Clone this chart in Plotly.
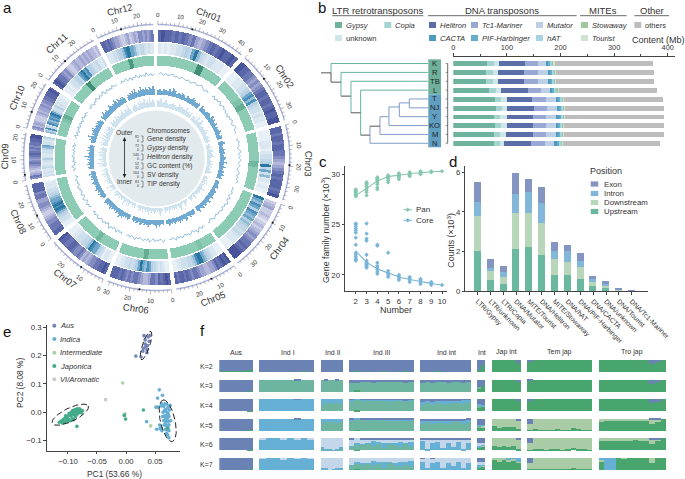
import numpy as np
import plotly.graph_objects as go

W, H = 685, 479
def fx(p): return p / W
def fy(p): return 1 - p / H

# ---------- panel a data ----------
chr_names = ["Chr01","Chr02","Chr03","Chr04","Chr05","Chr06","Chr07","Chr08","Chr09","Chr10","Chr11","Chr12"]
chr_len = [43.3,35.9,36.4,35.5,30.0,31.2,29.7,28.4,23.0,23.2,29.0,27.5]
centromere = [16.7,13.6,19.4,9.7,12.4,15.4,12.1,12.9,2.8,8.1,12.0,11.9]
gene_density = [
 [8,9,8,8,7,8,7,8,7,6,7,5,4,5,6,7,8,7,8,9,8,8,9,8],
 [9,9,8,8,7,7,6,5,6,5,6,7,8,8,7,8,8,7,8,9,8,8,9,9],
 [8,8,7,8,8,7,8,8,7,7,6,5,4,5,6,7,8,7,8,8,8,7,8,9],
 [3,4,5,3,3,4,3,2,3,4,3,4,5,6,5,6,7,7,8,7,8,9,9,9],
 [9,8,9,8,7,8,6,5,5,4,4,5,5,6,7,7,6,7,8,7,8,8,7,8],
 [8,9,8,7,8,6,7,7,5,4,4,5,6,7,7,6,7,6,7,8,7,8,8,8],
 [8,9,8,8,7,7,6,6,5,4,5,4,6,7,6,6,7,8,8,7,7,8,8,9],
 [8,8,7,7,7,6,6,5,4,3,3,4,5,6,6,5,5,7,7,6,8,8,8,8],
 [6,7,5,4,3,4,5,6,7,6,5,6,7,8,7,6,7,6,7,7,8,8,9,9],
 [5,6,4,5,4,3,3,3,4,5,4,5,5,6,5,6,6,7,7,8,8,8,9,8],
 [8,9,8,7,7,6,5,6,4,3,3,4,5,4,4,5,4,5,4,5,4,4,3,4],
 [8,8,7,8,7,6,5,5,4,3,3,4,5,3,4,5,4,6,6,5,6,5,6,7],
]
gypsy_density = [
 [2,1,2,1,2,2,3,3,4,5,4,7,9,6,4,3,2,3,3,2,2,2,1,1],
 [1,1,1,2,2,2,3,3,4,5,7,8,6,8,5,4,3,3,2,3,2,2,1,1],
 [1,1,1,1,2,2,2,1,2,3,3,4,5,9,4,7,3,6,2,2,1,2,1,1],
 [9,7,6,8,7,5,8,7,6,7,5,6,5,4,4,3,4,3,2,2,2,1,1,1],
 [1,1,1,2,2,3,4,5,6,7,9,9,8,6,5,4,4,3,3,3,2,2,1,1],
 [1,1,2,3,2,3,4,5,7,8,6,7,9,7,5,4,3,4,3,3,2,2,1,1],
 [1,1,2,2,1,3,4,5,7,7,8,9,6,5,4,4,3,3,3,2,2,1,1,1],
 [1,1,2,3,3,4,5,6,8,9,8,9,8,7,7,6,5,4,3,3,2,2,2,1],
 [3,2,3,2,2,4,3,2,2,3,5,3,2,2,3,3,4,6,7,3,3,2,3,5],
 [6,5,8,4,3,8,7,6,8,7,8,9,7,4,3,3,5,2,3,2,2,2,1,1],
 [1,1,2,1,2,3,3,4,5,4,7,8,9,7,8,5,5,4,3,3,4,2,2,3],
 [2,2,2,3,3,4,5,5,6,8,9,9,7,7,6,4,3,4,4,3,2,3,2,2],
]
helitron_density = [
 [3,3,3,3,3,3,9,3,3,3],[3,3,3,3,4,6,3,3,3,3],[3,3,3,3,3,5,3,3,3,3],[3,3,3,3,3,3,3,3,3,3],
 [3,3,3,4,3,3,3,3,3,3],[3,3,3,3,6,3,3,3,3,3],[3,3,3,3,5,3,3,3,3,3],[3,3,3,3,3,3,3,3,3,3],
 [3,3,3,3,3,3,3,3,3,3],[3,3,3,3,4,6,3,3,3,3],[3,3,3,3,9,3,3,3,3,3],[3,3,3,3,8,3,3,3,3,3],
]
gc_content = [
 [44,46,42,45,43,44,46,42,44,41,45,43,42,44,41,43,45,42,44,46,43,41,44,42],
 [42,45,41,44,42,46,41,43,45,42,44,41,43,40,44,42,45,43,41,44,46,42,43,41],
 [43,41,45,42,44,40,43,46,41,44,42,45,43,41,44,42,40,43,45,41,44,42,46,43],
 [40,43,41,44,42,40,45,41,43,46,42,44,41,45,43,42,44,41,43,45,42,40,44,43],
 [44,42,45,41,43,47,42,44,40,43,45,42,44,41,43,45,42,44,41,46,43,41,44,42],
 [42,46,43,41,44,42,45,40,43,46,41,44,42,45,43,41,44,42,46,43,41,45,42,44],
 [45,42,44,41,46,43,41,44,42,47,43,40,44,42,45,43,41,44,46,42,43,45,41,44],
 [41,44,42,45,43,40,44,46,42,41,45,43,41,44,42,46,43,41,44,42,45,43,40,44],
 [43,45,41,44,47,42,43,40,45,42,44,41,46,43,42,44,41,45,43,42,46,41,44,43],
 [42,44,46,41,43,45,40,44,42,46,41,43,45,42,44,41,43,46,42,44,41,45,43,42],
 [44,41,45,43,40,44,42,46,43,41,45,42,44,47,41,43,45,42,44,41,46,43,42,44],
 [41,45,42,44,46,41,43,45,40,44,42,46,43,41,45,42,44,41,47,43,42,45,41,44],
]
sv_density = [
 [60,75,45,80,70,55,90,60,110,80,50,70,60,85,75,45,85,70,65,95,80,60,70,85],
 [85,60,70,45,55,65,80,60,50,95,70,90,55,60,80,45,65,55,70,85,60,50,75,65],
 [70,90,60,45,55,80,65,70,50,60,85,70,55,95,65,45,90,60,50,75,60,85,55,70],
 [55,65,50,60,75,45,55,80,60,70,65,85,60,55,90,65,60,75,50,85,65,55,95,70],
 [50,65,70,55,85,60,45,75,90,65,55,70,60,95,65,55,60,80,50,70,60,85,55,65],
 [70,55,60,85,65,100,75,60,45,55,70,90,65,60,75,55,70,85,50,65,80,55,70,60],
 [60,80,55,70,45,65,90,75,110,65,60,85,55,70,60,75,55,95,65,50,70,60,80,55],
 [65,55,75,60,85,45,70,55,95,65,60,75,55,70,85,60,55,80,60,70,50,90,65,55],
 [70,85,60,55,100,65,75,45,60,90,55,70,130,65,60,80,70,55,95,60,75,85,65,70],
 [55,65,90,60,70,120,65,45,80,60,75,90,65,110,70,60,85,75,55,95,65,100,70,60],
 [80,65,70,100,60,75,90,65,50,70,110,80,65,85,70,120,90,60,105,75,85,65,95,70],
 [60,85,70,95,65,110,80,120,75,55,90,70,130,85,95,75,110,80,65,100,85,70,115,75],
]
tip_density = [
 [40,35,50,25,30,45,30,20,25,30,35,30,20,25,40,30,35,25,30,45,25,30,20,35],
 [30,25,40,20,45,25,30,50,35,20,25,30,20,25,35,25,30,20,15,25,35,20,30,25],
 [25,20,30,15,25,35,20,25,30,45,25,15,20,30,25,35,20,30,15,25,20,40,25,15],
 [20,25,15,30,20,35,10,25,15,20,45,25,20,30,15,25,20,15,35,20,10,25,30,15],
 [15,25,20,35,10,15,20,25,45,30,20,15,25,20,30,15,25,10,20,35,15,25,20,30],
 [20,30,45,15,25,10,20,35,25,15,30,20,40,25,15,30,20,15,30,10,25,35,20,15],
 [25,15,30,20,10,15,35,20,30,15,25,45,20,15,25,20,15,30,10,25,20,35,15,25],
 [20,35,15,25,20,45,10,15,30,20,25,15,35,20,25,15,30,20,40,15,25,10,30,20],
 [30,20,40,25,50,15,30,20,35,45,25,30,20,40,25,35,20,45,30,15,35,25,40,30],
 [35,25,45,30,20,40,30,55,15,25,35,40,25,30,45,25,35,20,50,30,25,40,35,25],
 [30,45,25,35,40,20,30,50,25,40,35,25,45,30,35,50,30,20,40,45,25,35,55,30],
 [25,40,30,50,35,20,25,45,30,55,35,30,40,50,30,35,45,25,60,35,30,45,40,30],
]

# ---------- panel b data ----------
b_rows = ["K","R","TB","L","T","NJ","Y","KO","M","N"]
b_gypsy    = [63.5,61.6,61.6,67,78,80,76,78.5,76.5,76.5]
b_copia    = [12.5,13,12.4,13,12,11,11,10.5,11.5,10.5]
b_unknown  = [9,9.4,9.4,10,10,10,13,11,11,9]
b_helitron = [48.5,48,48.6,49,48,49.5,49,49,50,50]
b_tc1      = [24.5,26,26,25,25,24.5,25,25,24,25]
b_mutator  = [16.5,19,19,17,19,19,19,18,19,18]
b_cacta    = [3,4,4,4,4,4,5,4,4,5]
b_pif      = [5,5,5,5,5,5,5,5,5,5]
b_hat      = [3,2.5,2.5,3,3,3,3,3,3,3]
b_stowaway = [2,2,2,3,2,2,2,2,2,2]
b_tourist  = [2,2,2,2,1,1,1,1,1,1]
b_others   = [183,182.5,183,182,184,184,185,186,186,182]
b_series = [("Gypsy",b_gypsy,"#6fb39f"),("Copia",b_copia,"#a3d4cf"),("unknown",b_unknown,"#cfe6e8"),
            ("Helitron",b_helitron,"#5b6ea8"),("Tc1-Mariner",b_tc1,"#9aa8d4"),("Mutator",b_mutator,"#bccfe6"),
            ("CACTA",b_cacta,"#4f9bc0"),("PIF-Harbinger",b_pif,"#64aecb"),("hAT",b_hat,"#a6d4e2"),
            ("Stowaway",b_stowaway,"#a0c79d"),("Tourist",b_tourist,"#cfe2cf"),("others",b_others,"#bdbdbd")]

# tree (branch units, row index)
tree_teal_x = [48,340,None,48,48,None,78,340,None,78,78,None,108,340,None,108,108,None,137,340,None,137,137]
tree_teal_y = [0,0,None,0,1.05,None,1,1,None,1,3.68,None,2,2,None,2,5.56,None,3,3,None,3,8.08]
tree_dark_x = [18,48,None,48,48,None,48,78,None,78,108,None,108,137,None,137,165,None,165,195]
tree_dark_y = [1.05,1.05,None,1.05,2.1,None,2.1,2.1,None,3.68,3.68,None,5.56,5.56,None,8.08,8.08,None,7.07,7.07]
tree_blue_x = [165,165,None,165,340,None,195,195,None,195,340,None,195,222,None,222,222,None,222,340,None,222,253,None,253,253,None,253,340,None,253,283,None,283,283,None,283,340,None,283,340]
tree_blue_y = [7.07,9,None,9,9,None,6,8,None,8,8,None,6,6,None,4.9,7,None,7,7,None,4.9,4.9,None,4.44,6,None,6,6,None,4.44,4.44,None,4,5,None,4,4,None,5,5]

# ---------- panel c data ----------
c_n = [2,3,4,5,6,7,8,9,10]
pan_mean = [27.9,28.6,29.3,29.75,29.9,30.05,30.15,30.25,30.3]
core_mean = [22.4,21.3,20.6,20.2,19.8,19.55,19.35,19.15,19.0]
pan_points = [[27.8,27.9,28.0,28.1,28.2,28.3,28.4,28.5],[27.9,28.2,28.4,28.6,28.8,29.0,29.1,29.2],
 [28.5,28.7,29.0,29.2,29.4,29.5,29.6,29.7],[29.2,29.4,29.6,29.7,29.8,29.9],[29.5,29.7,29.8,29.9,30.0,30.1],
 [29.8,29.9,30.0,30.1,30.2],[30.0,30.1,30.2,30.3],[30.2,30.3],[30.3]]
core_points = [[21.4,21.5,21.6,21.8,22.0,22.2,23.0,23.7,24.2,24.4,24.6,24.8,25.0,25.1],
 [20.7,20.8,20.9,21.0,21.1,21.2,21.4,22.0,23.4,23.6,24.1,25.1],[20.1,20.3,20.5,20.7,20.9,21.2,22.9,23.0],
 [19.8,20.0,20.2,20.4,22.2],[19.5,19.7,19.9,20.0],[19.3,19.5,19.7,19.8],[19.1,19.3,19.5,19.6],[19.0,19.2,19.3],[19.0]]

# ---------- panel d data ----------
d_cats = ["LTR/Gypsy","LTR/unknown","LTR/Copia","DNA/Mutator","MITE/Tourist","DNA/Helitron","MITE/Stowaway",
          "DNA/hAT","DNA/PIF-Harbinger","DNA/CACTA","DNA/unknown","DNA/Tourist","DNA/Tc1-Mariner"]
d_upstream   = [2.03,.57,.40,2.15,2.22,1.83,.85,.83,.63,.27,.18,.06,.02]
d_downstream = [1.77,.48,.33,1.83,1.73,1.62,.77,.67,.62,.23,.14,.04,.02]
d_intron     = [.73,.15,.25,.95,1.08,1.03,.42,.53,.27,.15,.08,.03,.01]
d_exon       = [.97,.42,.32,1.05,.64,.79,.48,.30,.43,.13,.12,.04,.02]

# ---------- panel e data ----------
aus_x = [.017,.026,.029,.03,.031,.033,.034,.036,.037,.038,.04,.041,.036,.033]
aus_y = [.198,.195,.215,.225,.27,.24,.23,.21,.235,.265,.25,.27,.22,.255]
indica_x = [.0574,.063,.0545,.0517,.062,.0356,.0529,.0585,.055,.06,.065,.067,.07,.068,.072,.074,.076,.064,.066,.069,.071,.073,.075,.063,.066,.068,.07,.072,.074,.065,.067,.069,.071,.073,.066,.068,.07,.072,.074,.068,.07,.072,.074,.07,.072,.074,.06,.062,.077,.058]
indica_y = [.079,.06,.05,.018,.03,-.033,-.06,-.058,.018,.022,.02,.03,.028,.01,.015,.02,.025,0,.005,.003,0,-.005,.008,-.015,-.012,-.018,-.01,-.02,-.014,-.03,-.028,-.035,-.03,-.032,-.045,-.042,-.048,-.05,-.044,-.06,-.062,-.058,-.065,-.075,-.08,-.09,-.055,-.065,-.03,-.045]
intermediate_x = [-.0057,-.0017,.0425,-.003]
intermediate_y = [.103,-.005,-.048,-.01]
japonica_x = [.03,-.003,-.0007,-.0846,.072,-.115,-.112,-.11,-.108,-.106,-.105,-.103,-.102,-.1,-.098,-.097,-.095,-.093,-.092,-.09,-.088,-.087,-.085,-.083,-.082,-.08,-.078,-.077,-.075,-.11,-.107,-.104,-.1,-.096,-.094,-.09,-.086,-.084,-.08,-.098,-.092,-.088]
japonica_y = [.008,-.011,-.024,-.0495,-.056,-.035,-.032,-.03,-.025,-.035,-.02,-.03,-.015,-.022,-.01,-.028,-.012,-.02,-.005,-.008,.0,-.015,.005,-.005,.01,.0,.008,-.002,.005,-.038,-.036,-.012,-.032,-.03,.0,-.026,-.01,.012,.012,-.004,.006,.01]
aromatic_x = [-.0352]
aromatic_y = [.0445]
e_groups = [("Aus",aus_x,aus_y,"#7384ba"),("Indica",indica_x,indica_y,"#66aed3"),("Intermediate",intermediate_x,intermediate_y,"#a9d2a8"),
            ("Japonica",japonica_x,japonica_y,"#43ab8a"),("VI/Aromatic",aromatic_x,aromatic_y,"#c9c9c9")]
# ellipses: centre, major half-axis vector, minor half-axis vector
ell_centers = [(.0345,.235),(.0719,-.0297),(-.096,-.0085)]
ell_major = [(.0069,.05),(-.0081,.0731),(.031,.0307)]
ell_minor = [(.0072,.0042),(.0123,.0057),(.005,-.0212)]

# ---------- panel f data (bottom-to-top stack per K, percent; top component is blue) ----------
f_groups = ["Aus","Ind I","Ind II","Ind III","Ind int","Int","Jap int","Tem jap","Tro jap"]
f_sizes = [33.7,55.3,22,64.7,51,8,29.3,65,67.7]
f_bins = [6,8,6,12,10,2,6,12,12]
f_k = ["K=2","K=3","K=4","K=5","K=6","K=7"]
k2_green = [[12,12,10,10,12,20],[0,0,0,0,0,0,5,0],[0],[0,12,0,0,0,0,5,0,0,0,5,0],[0,0,0,5,0,0,0,0,0,0],[15,55],[100,100,100,100,100,75],[90,100,100,100,100,100,100,100,100,100,100,100],[100,100,100,100,100,100,100,100,100,70,85,100]]
k3_green = [[0,0,0,0,0,6],[0],[0],[0,10,0,0,0,0,0,0,0,0,0,0],[0],[20,45],[100,100,100,100,100,85],[90,100,100,100,100,100,100,100,100,100,100,100],[100,100,100,100,100,100,100,100,100,65,85,100]]
k3_teal = [[0],[100,100,100,100,100,90,100,100],[100,95,100,100,95,100],[70,65,85,80,75,85,85,80,85,80,70,85],[75,85,70,85,80,75,85,85,70,85],[20,0],[0],[0],[0]]
k4_green = [[0,0,0,0,0,5],[0],[0],[0,8,0,0,0,0,0,0,0,0,0,0],[0],[25,40],[100,100,100,100,100,90],[88,100,100,100,100,100,100,100,100,100,100,100],[100,100,100,100,100,100,100,100,100,70,85,100]]
k4_teal = [[0],[0],[40,70,65,60,65,60],[85,90,92,90,92,90,92,85,90,88,85,90],[50,70,55,65,60,60,70,70,60,75],[25,0],[0],[0],[0]]
k4_lblue = [[0],[100,100,100,100,100,95,100,100],[60,30,35,40,35,40],[10,5,5,5,5,5,5,10,5,7,8,5],[35,20,30,25,30,30,20,20,35,20],[10,10],[0],[0],[0]]
k5_green = [[0,0,0,0,0,5],[0],[0],[0,8,0,0,0,0,0,0,0,0,0,0],[0],[20,30],[40,25,35,30,35,15],[5,15,10,5,10,15,5,10,20,15,10,5],[75,80,85,85,80,85,90,85,85,55,80,100]]
k5_pale = [[0],[0],[0],[0],[0],[0,10],[60,75,65,70,65,75],[55,85,90,95,90,85,95,90,80,85,90,95],[25,20,15,15,20,15,10,15,15,40,15,0]]
k5_teal = [[0],[0],[60,70,75,70,65,70],[85,90,92,90,92,90,92,85,90,88,85,90],[60,75,55,70,65,60,70,75,60,80],[20,0],[0],[0],[0]]
k5_lblue = [[0],[100,100,100,100,100,95,100,100],[40,30,25,30,35,30],[10,2,3,5,5,5,5,10,5,7,8,5],[25,15,25,15,20,25,20,15,25,15],[10,10],[0],[0],[0]]
k6_green = [[0,0,0,0,0,5],[0],[0],[0,6,0,0,0,0,0,0,0,0,0,0],[0],[20,30],[40,25,35,30,35,15],[5,15,10,5,10,15,5,10,20,15,10,5],[75,80,85,85,80,85,90,85,85,55,80,100]]
k6_pale = [[0],[0],[0],[0],[0],[0,10],[60,75,65,70,65,75],[55,85,90,95,90,85,95,90,80,85,90,95],[25,20,15,15,20,15,10,15,15,40,15,0]]
k6_teal = [[0],[0],[10,0,5,0,0,15],[30,45,50,60,40,60,20,60,50,30,55,30],[0],[0],[0],[0],[0]]
k6_lblue = [[0],[95,100,100,90,100,90,100,95],[20,10,10,5,10,15],[10,10,5,5,40,10,40,5,10,40,10,40],[75,15,60,70,20,60,30,70,15,60],[15,5],[0],[0],[0]]
k6_pblue = [[0],[5,0,0,10,0,10,0,5],[70,90,85,95,90,70],[55,39,40,30,15,25,35,30,35,25,30,25],[20,80,30,25,75,35,65,25,80,35],[30,20],[0],[0],[0]]
k7_green = [[0,0,0,0,0,5],[0],[0],[0,6,0,0,0,0,0,0,0,0,0,0],[0],[25,30],[80,70,85,70,80,60],[5,10,5,5,10,10,5,5,15,10,5,5],[70,0,0,100,95,100,100,100,100,60,100,100]]
k7_pale = [[0],[0],[0],[0],[0],[0,10],[20,30,15,15,15,10],[50,90,95,95,90,90,95,95,85,90,95,95],[10,0,0,0,5,0,0,0,0,40,0,0]]
k7_teal = [[0],[0],[0,5,0,0,5,0],[35,50,50,55,30,55,20,60,45,25,50,35],[0],[0],[0],[0],[0]]
k7_lblue = [[0],[95,100,100,90,100,95,100,95],[15,15,0,5,15,15],[10,10,5,5,45,10,45,5,15,45,15,40],[70,20,60,70,15,60,35,65,20,60],[15,5],[0,0,0,15,5,30],[0],[20,100,100,0,0,0,0,0,0,0,0,0]]
k7_pblue = [[0],[5,0,0,10,0,5,0,5],[85,80,100,95,80,85],[55,34,45,40,25,35,35,35,40,30,35,25],[25,80,35,30,85,40,65,35,80,40],[30,25],[0],[0],[0]]

GREEN, PALE, TEAL, LBLUE, PBLUE, SBLUE = "#48a56e","#a9cba6","#6db5a0","#66b0d6","#c3d6ea","#6b82b4"
f_rows = [
 [(k2_green,GREEN)],
 [(k3_green,GREEN),(k3_teal,TEAL)],
 [(k4_green,GREEN),(k4_teal,TEAL),(k4_lblue,LBLUE)],
 [(k5_green,GREEN),(k5_pale,PALE),(k5_teal,TEAL),(k5_lblue,LBLUE)],
 [(k6_green,GREEN),(k6_pale,PALE),(k6_teal,TEAL),(k6_lblue,LBLUE),(k6_pblue,PBLUE)],
 [(k7_green,GREEN),(k7_pale,PALE),(k7_teal,TEAL),(k7_lblue,LBLUE),(k7_pblue,PBLUE)],
]

# ---------- helpers ----------
TXT = "#333333"
FONT = "Liberation Sans, Arial, sans-serif"
ann, shp = [], []
def text(px, py, s, size=8, angle=0, color=TXT, anchor="center", vanchor="middle"):
    ann.append(dict(x=fx(px), y=fy(py), xref="paper", yref="paper", text=s, showarrow=False,
                    font=dict(size=size, color=color, family=FONT), textangle=angle,
                    xanchor=anchor, yanchor=vanchor, borderpad=0))
def rect(x0, y0, x1, y1, color):
    shp.append(dict(type="rect", xref="paper", yref="paper", x0=fx(x0), x1=fx(x1), y0=fy(y0), y1=fy(y1),
                    fillcolor=color, line=dict(width=0)))
def line(x0, y0, x1, y1, color="#444444", width=0.8):
    shp.append(dict(type="line", xref="paper", yref="paper", x0=fx(x0), x1=fx(x1), y0=fy(y0), y1=fy(y1),
                    line=dict(color=color, width=width)))
def circle(cx, cy, r, color):
    shp.append(dict(type="circle", xref="paper", yref="paper", x0=fx(cx-r), x1=fx(cx+r), y0=fy(cy+r), y1=fy(cy-r),
                    fillcolor=color, line=dict(width=0)))
def diamond(cx, cy, r, color):
    path = f"M{fx(cx-r)},{fy(cy)} L{fx(cx)},{fy(cy-r)} L{fx(cx+r)},{fy(cy)} L{fx(cx)},{fy(cy+r)} Z"
    shp.append(dict(type="path", xref="paper", yref="paper", path=path, fillcolor=color, line=dict(width=0)))

fig = go.Figure()

# ---------- panel a: circular tracks ----------
CX, CY, R_MAX = 156.7, 157.5, 140
GAP = 2.0
scale = (360 - GAP*12) / sum(chr_len)
chr_start, t = [], 0.5
for L in chr_len:
    chr_start.append(t); t += L*scale + GAP

def track_bins(values):
    th, wd, val = [], [], []
    for i, chrom in enumerate(values):
        span = chr_len[i]*scale
        w = span/len(chrom)
        for j, v in enumerate(chrom):
            th.append(chr_start[i] + (j+0.5)*w); wd.append(w); val.append(v)
    return np.array(th), np.array(wd), np.array(val, float)

def heat_ring(values, r0, r1, scale_colors, cmin, cmax):
    th, wd, val = track_bins(values)
    fig.add_trace(go.Barpolar(theta=th, width=wd*1.04, r=np.full(len(th), r1-r0), base=r0,
        marker=dict(color=val, colorscale=scale_colors, cmin=cmin, cmax=cmax, line=dict(width=0), showscale=False),
        subplot="polar", hoverinfo="skip", showlegend=False))

heat_ring(gene_density, 116, 128, [[0,"#dfe1ef"],[0.35,"#aab0d6"],[0.7,"#6d79b5"],[1,"#47549a"]], 2, 9)
heat_ring(gypsy_density, 103.5, 115, [[0,"#e8f0f7"],[0.5,"#b5d0e3"],[0.8,"#5f9ec4"],[1,"#2a76a3"]], 1, 9)
heat_ring(helitron_density, 92, 102, [[0,"#8ccbb4"],[1,"#3f8f77"]], 3, 9)

th, wd, val = track_bins(sv_density)
fig.add_trace(go.Barpolar(theta=th, width=wd*1.04, r=val*0.075, base=63,
    marker=dict(color="#70a9d1", line=dict(width=0)), subplot="polar", hoverinfo="skip", showlegend=False))
th, wd, val = track_bins(tip_density)
fig.add_trace(go.Barpolar(theta=th, width=wd*1.04, r=val*0.18, base=50.5,
    marker=dict(color="#cfe2f0", line=dict(width=0)), subplot="polar", hoverinfo="skip", showlegend=False))
for i, chrom in enumerate(gc_content):
    span = chr_len[i]*scale
    w = span/len(chrom)
    fig.add_trace(go.Scatterpolar(theta=[chr_start[i]+(j+.5)*w for j in range(len(chrom))],
        r=[83 + (v-43)*0.65 for v in chrom], mode="lines", line=dict(color="#7fb0d2", width=0.8),
        subplot="polar", hoverinfo="skip", showlegend=False))

# outer scale
tk_t, tk_r = [], []
for i, L in enumerate(chr_len):
    fig.add_trace(go.Scatterpolar(theta=np.linspace(chr_start[i], chr_start[i]+L*scale, 40), r=np.full(40, 133),
        mode="lines", line=dict(color="#a9b2d9", width=1.4), subplot="polar", hoverinfo="skip", showlegend=False))
    for m in np.arange(0, L, 2):
        th0 = chr_start[i] + m*scale
        tk_t += [th0, th0, None]
        tk_r += [133, 137 if m % 10 == 0 else 135.5, None]
fig.add_trace(go.Scatterpolar(theta=tk_t, r=tk_r, mode="lines", line=dict(color="#777777", width=0.5),
    subplot="polar", hoverinfo="skip", showlegend=False))
fig.add_trace(go.Scatterpolar(theta=[chr_start[i]+c*scale for i, c in enumerate(centromere)], r=[133]*12,
    mode="markers", marker=dict(color="#222222", size=2.2), subplot="polar", hoverinfo="skip", showlegend=False))

def polar_label(theta, r, s, size):
    a = np.radians(theta)
    px, py = CX + r*np.sin(a), CY - r*np.cos(a)
    ang = theta - 180 if 100 < theta <= 270 else (theta if theta <= 100 else theta - 360)
    text(px, py, s, size=size, angle=ang)
for i, L in enumerate(chr_len):
    polar_label(chr_start[i] + L*scale/2, 152, chr_names[i], 9.5)
    for m in np.arange(0, L, 10):
        polar_label(chr_start[i] + m*scale, 143, str(int(m)), 6.2)

circle(CX, CY+1, 48, "#e3eaed")
legend_lines = [("Chromosomes",130,None,None),("Gene density",139,"82","0"),("<i>Gypsy</i> density",148,"72","0"),
                ("<i>Helitron</i> density",157,"546","0"),("GC content (%)",166,"52","32"),("SV density",175,"164","0"),("TIP density",184,"83","0")]
for s, y, hi, lo in legend_lines:
    text(146, y, s, size=6.6, anchor="left")
    if hi:
        text(139.5, y-2, hi, size=3.5, anchor="right"); text(139.5, y+2, lo, size=3.5, anchor="right")
        line(141, y-3, 143, y-3, "#333333", 0.5); line(143, y-3, 143, y+3, "#333333", 0.5); line(141, y+3, 143, y+3, "#333333", 0.5)
text(124.5, 132.5, "Outer", size=6.6); text(124.5, 181, "Inner", size=6.6)
line(124.5, 138, 124.5, 177, "#222222", 0.8)
shp.append(dict(type="path", xref="paper", yref="paper", fillcolor="#222222", line=dict(width=0),
    path=f"M{fx(124.5)},{fy(137)} L{fx(122.7)},{fy(141)} L{fx(126.3)},{fy(141)} Z"))
shp.append(dict(type="path", xref="paper", yref="paper", fillcolor="#222222", line=dict(width=0),
    path=f"M{fx(124.5)},{fy(178)} L{fx(122.7)},{fy(174)} L{fx(126.3)},{fy(174)} Z"))

# ---------- panel b ----------
rows = list(range(10))
cum = np.zeros(10)
for name, vals, col in b_series:
    fig.add_trace(go.Bar(y=rows, x=vals, base=cum.copy(), orientation="h", width=0.56, marker=dict(color=col, line=dict(width=0)),
                         xaxis="x", yaxis="y", showlegend=False, hoverinfo="skip"))
    cum = cum + np.array(vals)
for xs, ys, col, wid in [(tree_teal_x,tree_teal_y,"#64b3a6",1.0),(tree_blue_x,tree_blue_y,"#7f9cc8",1.0),(tree_dark_x,tree_dark_y,"#555555",1.0)]:
    fig.add_trace(go.Scatter(x=xs, y=ys, mode="lines", line=dict(color=col, width=wid), xaxis="x2", yaxis="y2",
                             showlegend=False, hoverinfo="skip", connectgaps=False))
rect(428.3, 59.3, 441, 94.3, "#6fb09d")
rect(428.3, 94.3, 441, 147.3, "#5e9fc2")
for i, s in enumerate(b_rows):
    text(434.7, 63.5 + i*8.87, s, size=7.6, color="#222222")
line(447.7, 63.5, 447.7, 143.3, "#444444", 0.8)
for i in rows:
    line(445.7, 63.5+i*8.87, 447.7, 63.5+i*8.87, "#444444", 0.6)
for header, x0, x1 in [("LTR retrotransposons",332.3,423.3),("DNA transposons",428,576.7),("MITEs",580,626.7),("Other",634.3,669)]:
    text((x0+x1)/2, 10.5, header, size=9.5)
    line(x0, 15.7, x1, 15.7, "#444444", 0.8)
b_legend = [("<i>Gypsy</i>",335,25,"#6fb39f"),("<i>Copia</i>",384.3,25,"#a3d4cf"),("unknown",335,38,"#cfe6e8"),
            ("<i>Helitron</i>",429,25,"#5b6ea8"),("<i>Tc1-Mariner</i>",471,25,"#9aa8d4"),("<i>Mutator</i>",536,25,"#bccfe6"),
            ("<i>CACTA</i>",429,38,"#4f9bc0"),("<i>PIF-Harbinger</i>",471,38,"#64aecb"),("<i>hAT</i>",536,38,"#a6d4e2"),
            ("<i>Stowaway</i>",581,25,"#a0c79d"),("<i>Tourist</i>",581,38,"#cfe2cf"),("others",634.3,25,"#bdbdbd")]
for s, x, y, col in b_legend:
    rect(x, y-3, x+7, y+3, col)
    text(x+10, y, s, size=7.6, anchor="left")
text(630.7, 40, "Content (Mb)", size=9, anchor="left")

# ---------- panel c ----------
for vals, col in [(pan_points,"#86c7ae"),(core_points,"#79b5d9")]:
    xs = [n for n, v in zip(c_n, vals) for _ in v]
    ys = [p for v in vals for p in v]
    fig.add_trace(go.Scatter(x=xs, y=ys, mode="markers", marker=dict(symbol="diamond", size=3.4, color=col),
                             xaxis="x3", yaxis="y3", showlegend=False, hoverinfo="skip"))
fig.add_trace(go.Scatter(x=c_n, y=pan_mean, mode="lines", line=dict(color="#86c7ae", width=1.1, shape="spline"), xaxis="x3", yaxis="y3", showlegend=False, hoverinfo="skip"))
fig.add_trace(go.Scatter(x=c_n, y=core_mean, mode="lines", line=dict(color="#79b5d9", width=1.1, shape="spline"), xaxis="x3", yaxis="y3", showlegend=False, hoverinfo="skip"))
for s, y, col in [("Pan",209.7,"#86c7ae"),("Core",220.3,"#79b5d9")]:
    line(403.5, y, 412, y, col, 1); diamond(407.7, y, 2.2, col)
    text(415, y, s, size=8, anchor="left")
text(325, 230, "Gene family number (×10<sup>3</sup>)", size=8.8, angle=-90)
text(396, 310, "Number", size=9)

# ---------- panel d ----------
cum = np.zeros(13)
for vals, col in [(d_upstream,"#69b89f"),(d_downstream,"#b8d6b9"),(d_intron,"#83b7d9"),(d_exon,"#8595c2")]:
    fig.add_trace(go.Bar(x=list(range(13)), y=vals, base=cum.copy(), width=0.55, marker=dict(color=col, line=dict(width=0)),
                         xaxis="x4", yaxis="y4", showlegend=False, hoverinfo="skip"))
    cum = cum + np.array(vals)
text(450.7, 240, "Counts (×10<sup>3</sup>)", size=8.8, angle=-90)
text(589, 170.7, "Position", size=9, anchor="left")
for s, y, col in [("Exon",184,"#8595c2"),("Intron",193.5,"#83b7d9"),("Downstream",202.5,"#b8d6b9"),("Upstream",211.5,"#69b89f")]:
    rect(590.7, y-2.6, 598.3, y+2.6, col)
    text(602.7, y, s, size=7.8, anchor="left")

# ---------- panel e ----------
for s, xs, ys, col in e_groups:
    fig.add_trace(go.Scatter(x=xs, y=ys, mode="markers", marker=dict(size=3.6, color=col), xaxis="x5", yaxis="y5", showlegend=False, hoverinfo="skip"))
ang = np.linspace(0, 2*np.pi, 80)
for c, u, v in zip(ell_centers, ell_major, ell_minor):
    fig.add_trace(go.Scatter(x=c[0]+u[0]*np.cos(ang)+v[0]*np.sin(ang), y=c[1]+u[1]*np.cos(ang)+v[1]*np.sin(ang),
        mode="lines", line=dict(color="#222222", width=1, dash="6px,3px"), xaxis="x5", yaxis="y5", showlegend=False, hoverinfo="skip"))
for (s, xs, ys, col), y in zip(e_groups, [325.7,339,352.7,366,379.3]):
    circle(54.3, y, 2, col)
    text(59, y, f"<i>{s}</i>", size=7.6, anchor="left")
text(114, 474, "PC1 (53.66 %)", size=8.4)
text(20, 383, "PC2 (8.08 %)", size=8.4, angle=-90)

# ---------- panel f ----------
GAP_F, ROW_STEP = 6.35, 164
edges, pos = [], 0.0
for size in f_sizes:
    edges.append(pos); pos += size + GAP_F
centers, widths = [], []
for e, size, nb in zip(edges, f_sizes, f_bins):
    w = size/nb
    centers += [e + (j+.5)*w for j in range(nb)]
    widths += [w*1.02]*nb
def flatten(v):
    out = []
    for sub, nb in zip(v, f_bins):
        assert len(sub) in (1, nb), (sub, nb)
        out += list(sub)*nb if len(sub) == 1 else list(sub)
    return np.array(out, float)
for r, comps in enumerate(f_rows):
    base0 = (5-r)*ROW_STEP
    cum = np.zeros(len(centers))
    for v, col in comps:
        vv = np.minimum(flatten(v), 100-cum)
        fig.add_trace(go.Bar(x=centers, y=vv, base=base0+cum, width=widths, marker=dict(color=col, line=dict(width=0)),
                             xaxis="x6", yaxis="y6", showlegend=False, hoverinfo="skip"))
        cum = cum + vv
    fig.add_trace(go.Bar(x=centers, y=100-cum, base=base0+cum, width=widths, marker=dict(color=SBLUE, line=dict(width=0)),
                         xaxis="x6", yaxis="y6", showlegend=False, hoverinfo="skip"))
    text(206.7, 366 + r*19.72, f_k[r], size=7)
for s, x in zip(f_groups, [236,287.7,333.3,382.3,446.7,481.7,506.7,559.3,631.7]):
    text(x, 352.3, s, size=7)

for s, x, y in [("a",7.5,8),("b",322,8),("c",323,161),("d",453,161),("e",7,331),("f",202,330)]:
    text(x, y, s, size=15, color="#111111")

def blank(**kw):
    d = dict(showgrid=False, zeroline=False, showticklabels=False, showline=False, ticks="")
    d.update(kw)
    return d
def axis(**kw):
    d = dict(showgrid=False, zeroline=False, showline=True, linecolor="#444444", linewidth=0.9, ticks="outside",
             ticklen=2.5, tickwidth=0.7, tickcolor="#444444", tickfont=dict(size=7.8, color=TXT, family=FONT))
    d.update(kw)
    return d

fig.update_layout(
    width=W, height=H, autosize=False, template="none", margin=dict(l=0, r=0, t=0, b=0, pad=0),
    paper_bgcolor="white", plot_bgcolor="rgba(0,0,0,0)", barmode="overlay", showlegend=False, bargap=0,
    font=dict(family=FONT, color=TXT),
    polar=dict(domain=dict(x=[fx(CX-R_MAX), fx(CX+R_MAX)], y=[fy(CY+R_MAX), fy(CY-R_MAX)]), bgcolor="rgba(0,0,0,0)",
               angularaxis=dict(visible=False, direction="clockwise", rotation=90),
               radialaxis=dict(visible=False, range=[0, R_MAX])),
    xaxis=axis(domain=[fx(453.3), fx(675)], range=[0, 413.6], side="top", anchor="y", tickvals=[0,100,200,300,400],
               minor=dict(dtick=50, ticks="outside", ticklen=1.5, tickwidth=0.5, tickcolor="#444444"), tickfont=dict(size=7.4, color=TXT, family=FONT)),
    yaxis=blank(domain=[fy(147.8), fy(56.7)], range=[9.51, -0.77], anchor="x"),
    xaxis2=blank(domain=[fx(315), fx(428.3)], range=[0, 340], anchor="y2"),
    yaxis2=blank(domain=[fy(147.8), fy(56.7)], range=[9.51, -0.77], anchor="x2"),
    xaxis3=axis(domain=[fx(345), fx(447)], range=[1.0, 10.46], tickvals=c_n, anchor="y3"),
    yaxis3=axis(domain=[fy(291), fy(166)], range=[18.4, 30.82], tickvals=[20,25,30], anchor="x3"),
    xaxis4=axis(domain=[fx(465.3), fx(648)], range=[-0.97, 13.27], tickvals=list(range(13)), ticktext=d_cats, tickangle=45, anchor="y4",
                tickfont=dict(size=6.8, color=TXT, family=FONT)),
    yaxis4=axis(domain=[fy(291.3), fy(165.7)], range=[0, 6.32], tickvals=[0,2,4,6], anchor="x4"),
    xaxis5=axis(domain=[fx(46.7), fx(180)], range=[-0.1367, 0.0931], tickvals=[-.1,-.05,0,.05], ticktext=["−0.10","−0.05","0.00","0.05"], anchor="y5"),
    yaxis5=axis(domain=[fy(451), fy(325)], range=[-0.1364, 0.3075], tickvals=[-.1,0,.1,.2,.3], ticktext=["−0.1","0.0","0.1","0.2","0.3"], anchor="x5"),
    xaxis6=blank(domain=[fx(219.3), fx(666.7)], range=[0, pos-GAP_F], anchor="y6"),
    yaxis6=blank(domain=[fy(470), fy(360)], range=[0, 5*ROW_STEP+100], anchor="x6"),
    annotations=ann, shapes=shp,
)
fig.write_html("out.html", config={"displayModeBar": False}, post_script="document.body.style.margin='0';")
